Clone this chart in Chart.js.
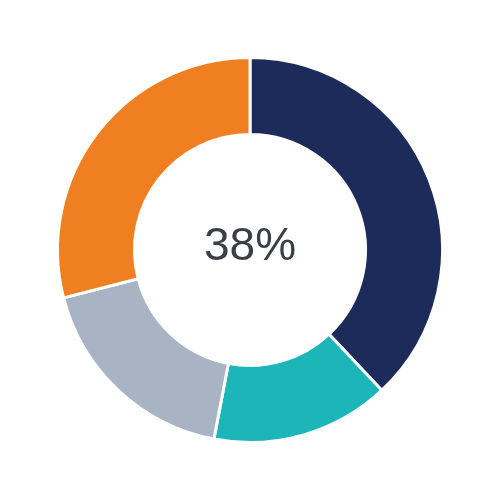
<!DOCTYPE html>
<html>
<head>
<meta charset="utf-8">
<script src="https://cdn.jsdelivr.net/npm/chart.js@4"></script>
<style>
  html, body { margin: 0; padding: 0; background: #fff; }
  #wrap { width: 500px; height: 500px; position: relative; }
</style>
</head>
<body>
<div id="wrap"><canvas id="chart" width="500" height="500"></canvas></div>
<script>
const LABELS = ["Navy", "Teal", "Gray", "Orange"];
const VALUES = [38, 15, 18, 29];
const COLORS = ["#1c2b5a", "#1cb5b8", "#a8b3c3", "#f07f22"];
const CENTER_TEXT = "38%";

const centerLabel = {
  id: "centerLabel",
  afterDraw(chart) {
    const meta = chart.getDatasetMeta(0).data[0];
    if (!meta) return;
    const ctx = chart.ctx;
    ctx.save();
    ctx.font = "46px 'Liberation Sans', Arial, sans-serif";
    ctx.fillStyle = "#3a3f47";
    ctx.textAlign = "center";
    ctx.textBaseline = "middle";
    ctx.fillText(CENTER_TEXT, meta.x, meta.y - 3);
    ctx.restore();
  },
};

new Chart(document.getElementById("chart").getContext("2d"), {
  type: "doughnut",
  data: {
    labels: LABELS,
    datasets: [{
      data: VALUES,
      backgroundColor: COLORS,
      borderColor: "#ffffff",
      borderWidth: 3,
    }],
  },
  options: {
    responsive: false,
    animation: false,
    cutout: "60%",
    layout: { padding: 56 },
    plugins: { legend: { display: false }, tooltip: { enabled: false } },
  },
  plugins: [centerLabel],
});
</script>
</body>
</html>
